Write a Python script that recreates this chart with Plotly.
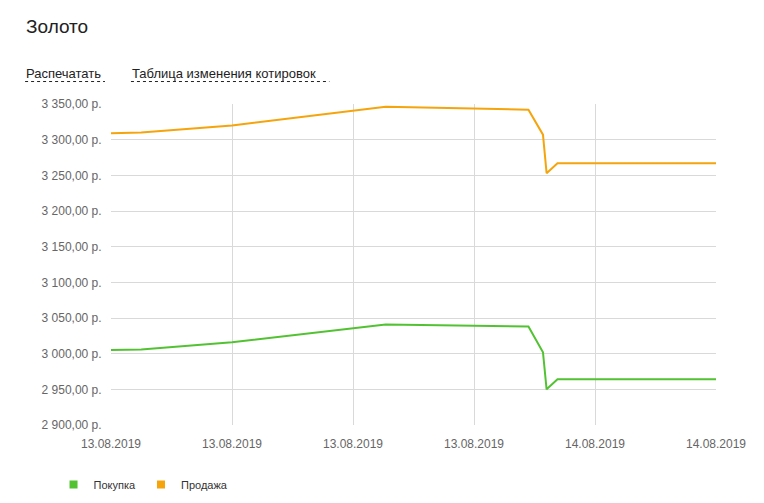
import plotly.graph_objects as go

# x in grid units (one unit between neighbouring date ticks)
x_pts = [0, 0.25, 1.0, 2.27, 3.45, 3.57, 3.60, 3.69, 5.0]
buy = [3005, 3006, 3016, 3041, 3038, 3002, 2950, 2964, 2964]
sell = [3309, 3310, 3320, 3346, 3342, 3307, 3253, 3267, 3267]
date_ticks = ["13.08.2019"] * 4 + ["14.08.2019"] * 2
y_ticks = list(range(2900, 3351, 50))
green, orange = "#52c232", "#f5a40c"

fig = go.Figure()
fig.add_trace(go.Scatter(x=x_pts, y=buy, mode="lines", showlegend=False,
                         line=dict(color=green, width=2)))
fig.add_trace(go.Scatter(x=x_pts, y=sell, mode="lines", showlegend=False,
                         line=dict(color=orange, width=2)))
# legend entries with square symbols
for name, c in [("Покупка", green), ("Продажа", orange)]:
    fig.add_trace(go.Scatter(x=[None], y=[None], mode="markers", name=name,
                             marker=dict(symbol="square", size=8, color=c)))

def rub(v):
    s = f"{v:,}".replace(",", " ")
    return f"{s},00 р."

fig.update_layout(
    width=764, height=503,
    margin=dict(l=103, r=56, t=96, b=81),
    plot_bgcolor="white", paper_bgcolor="white",
    font=dict(family="Arial, Liberation Sans", size=12, color="#666"),
    legend=dict(orientation="h", x=-0.095, y=-0.14, xanchor="left", yanchor="top",
                font=dict(size=11, color="#333"), itemwidth=30, tracegroupgap=0),
    xaxis=dict(range=[0, 5], tickvals=list(range(6)), ticktext=date_ticks,
               showgrid=True, gridcolor="#d9d9d9", zeroline=False, automargin=False,
               showline=False, ticks="outside", ticklen=8, tickcolor="white"),
    yaxis=dict(range=[2900, 3350], tickvals=y_ticks, ticktext=[rub(v) for v in y_ticks],
               showgrid=True, gridcolor="#d9d9d9", zeroline=False, automargin=False,
               ticks="outside", ticklen=6, tickcolor="white"),
)

fig.add_annotation(text="Золото", xref="paper", yref="paper", x=-0.144, y=1.24,
                   xanchor="left", yanchor="middle", showarrow=False,
                   font=dict(size=19, color="#222"))
fig.add_annotation(text="Распечатать", xref="paper", yref="paper", x=-0.144, y=1.095,
                   xanchor="left", yanchor="middle", showarrow=False,
                   font=dict(size=13, color="#222"))
fig.add_annotation(text="Таблица изменения котировок", xref="paper", yref="paper",
                   x=0.031, y=1.095, xanchor="left", yanchor="middle", showarrow=False,
                   font=dict(size=13, color="#222"))
for x0, x1 in [(-0.142, -0.01), (0.033, 0.361)]:
    fig.add_shape(type="line", xref="paper", yref="paper", x0=x0, x1=x1,
                  y0=1.07, y1=1.07, line=dict(color="#222", width=1, dash="dot"))

fig.write_html("out.html")
